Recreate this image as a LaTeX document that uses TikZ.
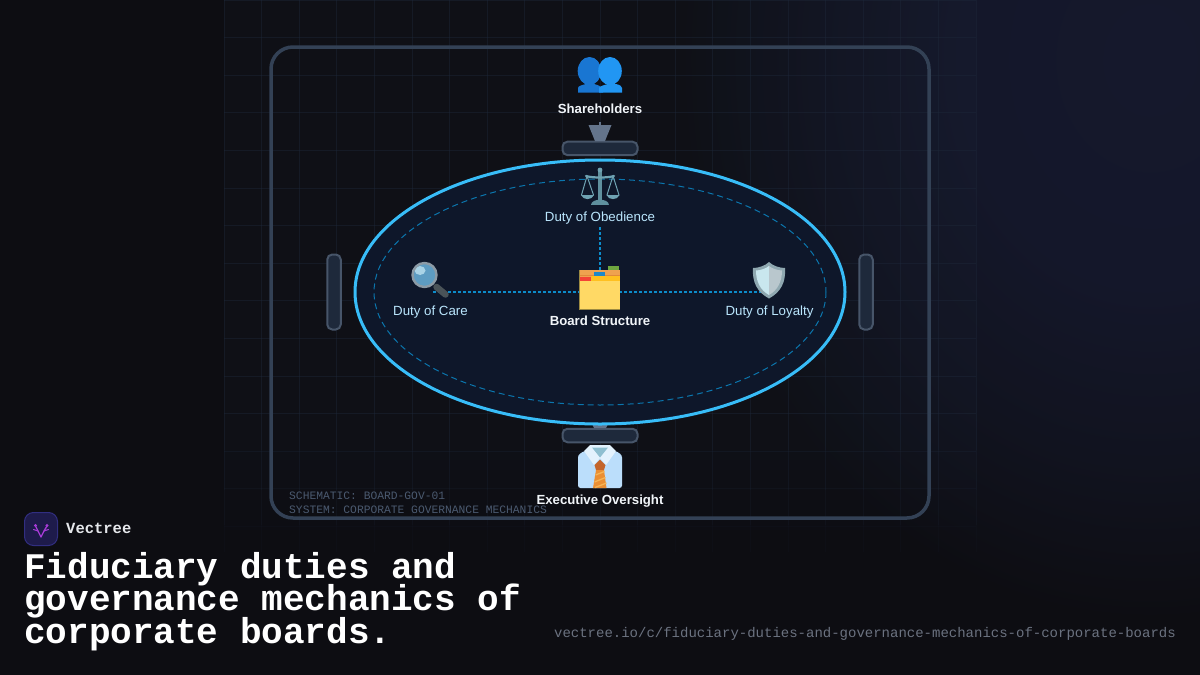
\documentclass[tikz,border=0pt]{standalone}
\usepackage{fontspec}
\setmainfont{Liberation Sans}
\newfontfamily\monof{Liberation Mono}
\usetikzlibrary{calc}
\definecolor{bgA}{HTML}{15182C}
\definecolor{bgB}{HTML}{14172A}
\definecolor{bgC}{HTML}{11131F}
\definecolor{bgD}{HTML}{0D0D12}
\definecolor{gridc}{HTML}{1E293B}
\definecolor{framec}{HTML}{334155}
\definecolor{barfill}{HTML}{1E293B}
\definecolor{barline}{HTML}{475569}
\definecolor{sky}{HTML}{38BDF8}
\definecolor{ellfill}{HTML}{0E172A}
\definecolor{dashc}{HTML}{0B76AD}
\definecolor{dotc}{HTML}{0C8CCB}
\definecolor{dutyc}{HTML}{BAE6FD}
\definecolor{whitec}{HTML}{F1F5F9}
\definecolor{slate}{HTML}{4B5A70}
\definecolor{urlc}{HTML}{6B7280}
\definecolor{wedge}{HTML}{64748B}
\definecolor{peopleA}{HTML}{1976D2}
\definecolor{peopleB}{HTML}{2196F3}
\definecolor{scaleA}{HTML}{5F909E}
\definecolor{scaleB}{HTML}{6FA3B3}
\definecolor{handle}{HTML}{4A5358}
\definecolor{glass}{HTML}{5D9CC2}
\definecolor{glint}{HTML}{A9D3E6}
\definecolor{lensring}{HTML}{8C9BA6}
\definecolor{shieldA}{HTML}{8FA8B0}
\definecolor{shieldB}{HTML}{C9E7EE}
\definecolor{shieldC}{HTML}{B9C7CD}
\definecolor{fGreen}{HTML}{6EA63F}
\definecolor{fOrange}{HTML}{EFA24F}
\definecolor{fOrangeD}{HTML}{E08A3C}
\definecolor{fBlue}{HTML}{1E88C8}
\definecolor{fRed}{HTML}{F44336}
\definecolor{fAmber}{HTML}{FFC020}
\definecolor{fYellow}{HTML}{FFD965}
\definecolor{fEdge}{HTML}{9C8A42}
\definecolor{shirt}{HTML}{BBDEFB}
\definecolor{collar}{HTML}{E3F2FD}
\definecolor{neck}{HTML}{8FBFD0}
\definecolor{knot}{HTML}{C4652B}
\definecolor{tie}{HTML}{EB8F33}
\definecolor{tiestripe}{HTML}{F5B556}
\definecolor{logoline}{HTML}{312E81}
\definecolor{logofill}{HTML}{1E1B4B}
\definecolor{logomark}{HTML}{A63BD6}
\definecolor{brand}{HTML}{E5E7EB}
\pgfdeclareradialshading{glow}{\pgfpoint{0bp}{0bp}}{%
 color(0bp)=(bgA); color(10bp)=(bgB); color(18bp)=(bgC); color(25bp)=(bgD); color(50bp)=(bgD)}
\tikzset{
  barbox/.style={draw=barline,fill=barfill,line width=2pt,rounded corners=5pt,inner sep=0pt},
  dutylabel/.style={font=\fontsize{13.3}{15}\selectfont,text=dutyc,inner sep=0pt,anchor=base},
  mainlabel/.style={font=\fontsize{13.2}{15}\selectfont\bfseries,text=whitec,inner sep=0pt,anchor=base},
  schem/.style={font=\monof\fontsize{11.3}{13}\selectfont,text=slate,inner sep=0pt,anchor=base west},
  headlinetext/.style={font=\monof\bfseries\fontsize{36}{36}\selectfont,text=white,inner sep=0pt,anchor=base west},
  dotline/.style={draw=dotc,line width=2pt,dash pattern=on 3pt off 2pt},
}
\begin{document}
\begin{tikzpicture}[x=1pt,y=-1pt]
\useasboundingbox (0,0) rectangle (1200,675);
% background
\begin{scope}
\clip (0,0) rectangle (1200,675);
\fill[bgD] (0,0) rectangle (1200,675);
\shade[shading=glow] (1150,60) ellipse [x radius=470,y radius=560];
\end{scope}
% grid panel
\fill[gridc,opacity=0.12] (224,0) rectangle (976,450);
\foreach \k in {0,...,9}{
  \pgfmathsetmacro{\ya}{450+10*\k}
  \pgfmathsetmacro{\yb}{460+10*\k}
  \pgfmathsetmacro{\op}{0.12*(1-(\k+0.5)/10)}
  \fill[gridc,opacity=\op] (224,\ya) rectangle (976,\yb);
}
% grid
\foreach \k in {0,...,14}{
  \pgfmathsetmacro{\yy}{37.6*\k}
  \pgfmathsetmacro{\op}{\k<12 ? 0.42 : (\k==12 ? 0.3 : (\k==13 ? 0.2 : 0.1))}
  \draw[gridc,line width=1pt,opacity=\op] (224,\yy) -- (976,\yy);
}
\foreach \k in {0,...,20}{
  \pgfmathsetmacro{\xx}{224+37.6*\k}
  \draw[gridc,line width=1pt,opacity=0.42] (\xx,0) -- (\xx,450);
  \draw[gridc,line width=1pt,opacity=0.3] (\xx,450) -- (\xx,490);
  \draw[gridc,line width=1pt,opacity=0.2] (\xx,490) -- (\xx,525);
  \draw[gridc,line width=1pt,opacity=0.1] (\xx,525) -- (\xx,552);
}
% frame
\node[draw=framec,line width=3.5pt,rounded corners=22pt,minimum width=658pt,minimum height=471pt,inner sep=0pt] (frame) at (600,282.5) {};
% bars
\node[barbox,minimum width=75pt,minimum height=13.5pt] (topbar) at (600,148.4) {};
\node[barbox,minimum width=75pt,minimum height=13.5pt] (botbar) at (600,435.5) {};
\node[barbox,minimum width=13.5pt,minimum height=75pt] (leftbar) at (334,292) {};
\node[barbox,minimum width=13.5pt,minimum height=75pt] (rightbar) at (866,292) {};
% wedges
\fill[wedge] (588.5,125) -- (611.5,125) -- (605,141) -- (595,141) -- cycle;
\fill[wedge] (599,122) rectangle (601,125);
\fill[wedge] (592,424) -- (608,424) -- (606,428) -- (594,428) -- cycle;
% ellipses
\fill[ellfill] (600,292) ellipse [x radius=245,y radius=132];
\draw[sky,line width=3pt] (600,292) ellipse [x radius=245,y radius=132];
\draw[dashc,line width=1pt,dash pattern=on 6pt off 4pt] (600,292) ellipse [x radius=226,y radius=113];
% anchors + labels
\coordinate (care) at (433,292);
\coordinate (loyalty) at (762,292);
\coordinate (centre) at (600,292);
\coordinate (obedfoot) at (600,227);
\node[dutylabel] (obedlabel) at (600,221.3) {Duty of Obedience};
\node[dutylabel] (carelabel) at (430.5,315.3) {Duty of Care};
\node[dutylabel] (loyallabel) at (769.5,315.3) {Duty of Loyalty};
\node[mainlabel] (boardlabel) at (600,325.2) {Board Structure};
\node[mainlabel] (sharelabel) at (600,113.2) {Shareholders};
\node[mainlabel] (execlabel) at (600,504.2) {Executive Oversight};
% connectors
\draw[dotline] (care) -- (centre);
\draw[dotline] (loyalty) -- (centre);
\draw[dotline] (obedfoot) -- (centre);
% people icon
\fill[peopleA] (578,92.5) -- (578,88) .. controls (578,86) and (582,85) .. (586,84) -- (594,84) .. controls (598,85) and (601,86) .. (603,89) -- (603,92.5) -- cycle;
\fill[peopleA] (589.5,71) ellipse [x radius=11.8,y radius=14];
\fill[peopleB] (599,92.5) -- (599,88) .. controls (600,86) and (604,85) .. (608,84) -- (616,84) .. controls (620,85) and (622,86) .. (622,88) -- (622,92.5) -- cycle;
\fill[peopleB] (610,71) ellipse [x radius=11.8,y radius=14];
% scales icon
\begin{scope}[line cap=round]
\draw[scaleA,line width=3.6pt] (600,171) -- (600,200);
\draw[scaleB,line width=2.2pt] (586,176) .. controls (592,178) and (608,178) .. (614,176);
\draw[scaleB,line width=1pt] (587,176) -- (581.5,195) (587,176) -- (593.5,195) (613,176) -- (607,195) (613,176) -- (619,195);
\fill[scaleB] (581,195) .. controls (583,200.5) and (592,200.5) .. (594,195) -- cycle;
\fill[scaleB] (606.5,195) .. controls (608.5,200.5) and (617.5,200.5) .. (619.5,195) -- cycle;
\fill[scaleB] (600,170) circle (2.4);
\fill[scaleA] (591,204.5) .. controls (591,198) and (609,198) .. (609,204.5) -- cycle;
\end{scope}
% magnifier icon
\draw[handle,line width=6.5pt,line cap=round] (436.5,287) -- (445.5,294.5);
\fill[glass] (424.5,275) circle (12);
\fill[glint] (420,270.5) ellipse [x radius=5.5,y radius=4.5];
\draw[lensring,line width=2.4pt] (424.5,275) circle (12);
% shield icon
\fill[shieldA] (769,262) .. controls (773,266) and (780,268) .. (785,268) .. controls (786,282) and (781,292) .. (769,298.5) .. controls (757,292) and (752,282) .. (753,268) .. controls (758,268) and (765,266) .. (769,262) -- cycle;
\fill[shieldB] (769,266) .. controls (766,268.5) and (760,270.5) .. (756,270.5) .. controls (756,281) and (760,290) .. (769,295) -- cycle;
\fill[shieldC] (769,266) .. controls (772,268.5) and (778,270.5) .. (782,270.5) .. controls (782,281) and (778,290) .. (769,295) -- cycle;
% folder icon
\fill[fGreen] (608,266) rectangle (619,272);
\fill[fOrange] (579,269.5) rectangle (620,282);
\fill[fOrangeD] (579,274.5) rectangle (620,275.5);
\fill[fBlue] (594,271.5) rectangle (605,276);
\fill[fRed] (580,277) rectangle (591,282);
\fill[fAmber] (591,276) rectangle (620,281);
\fill[fYellow] (579,281) rectangle (620,309.5);
\fill[fEdge] (579,308.5) rectangle (620,309.5);
\fill[fEdge] (579,270) rectangle (579.7,309);
% shirt icon
\fill[shirt,rounded corners=2.5pt] (584,451) -- (616,451) -- (622,455) -- (622,488) -- (578,488) -- (578,455) -- cycle;
\fill[collar] (590,445) -- (610,445) -- (616,451) -- (606,465) -- (600,458) -- (594,465) -- (584,451) -- cycle;
\fill[neck] (592,447.5) -- (608,447.5) -- (600,457.5) -- cycle;
\fill[knot] (600,459.5) -- (605.5,465) -- (604,470) -- (596,470) -- (594.5,465) -- cycle;
\fill[tie] (596,470) -- (604,470) -- (606.5,488) -- (593,488) -- cycle;
\draw[tiestripe,line width=1.3pt] (595.5,475) -- (604.5,471.5) (594.5,482) -- (605.5,477.5) (595,487.5) -- (606.5,483);
% bottom left text
\node[schem] (schema) at (289,499) {SCHEMATIC: BOARD-GOV-01};
\node[schem] (sysname) at (289,513) {SYSTEM: CORPORATE GOVERNANCE MECHANICS};
% logo
\node[draw=logoline,fill=logofill,line width=1pt,rounded corners=9pt,minimum size=33pt,inner sep=0pt] (logo) at (41,529) {};
\draw[logomark,line width=1.3pt,line cap=round,line join=round] (35.5,526) -- (38,531) -- (41,537) -- (44,531) -- (47,526);
\draw[logomark,line width=1pt,line cap=round] (38,531) -- (33.5,529.5) (44,531) -- (48.5,529.5);
\fill[logomark] (35.5,525.5) circle (1.6) (47,525.5) circle (1.6);
\node[font=\monof\bfseries\fontsize{15.5}{18}\selectfont,text=brand,inner sep=0pt,anchor=base west] (brandname) at (66,533.5) {Vectree};
\node[headlinetext] (headA) at (24,578.3) {Fiduciary duties and};
\node[headlinetext] (headB) at (24,610.7) {governance mechanics of};
\node[headlinetext] (headC) at (24,643.1) {corporate boards.};
\node[font=\monof\fontsize{14}{16}\selectfont,text=urlc,inner sep=0pt,anchor=base east] (urltext) at (1176,637) {vectree.io/c/fiduciary-duties-and-governance-mechanics-of-corporate-boards};
\end{tikzpicture}
\end{document}
